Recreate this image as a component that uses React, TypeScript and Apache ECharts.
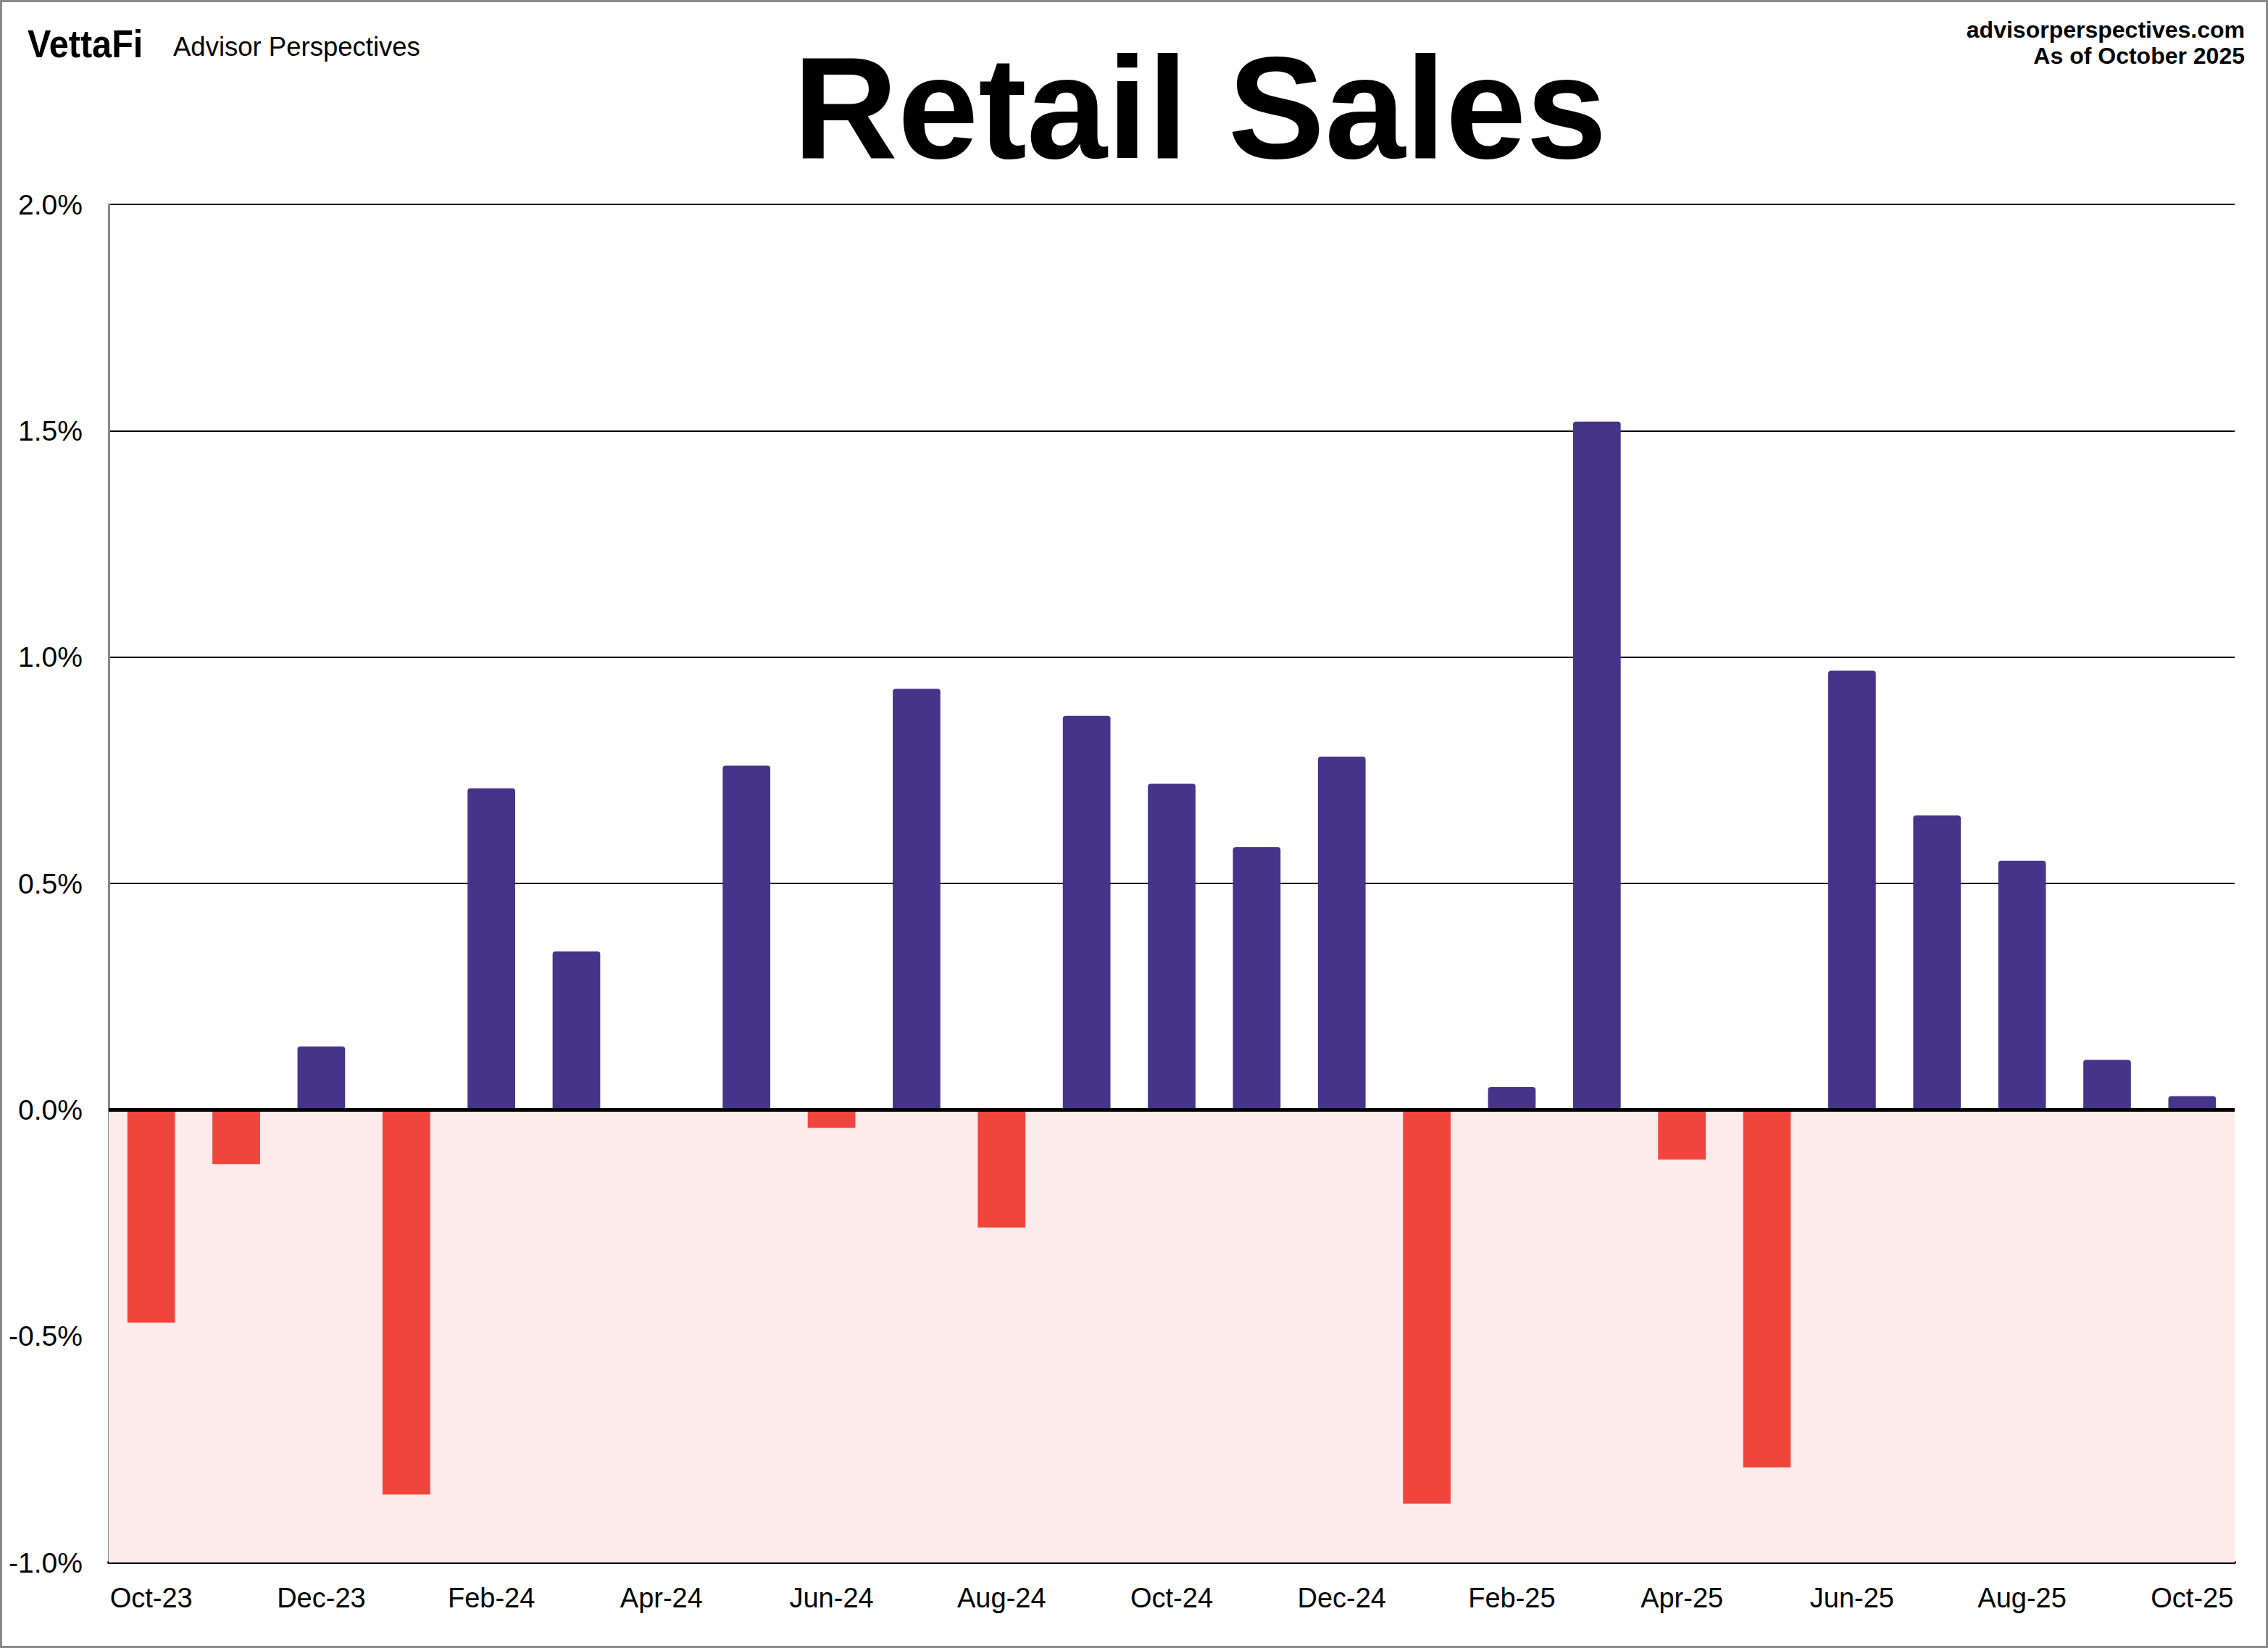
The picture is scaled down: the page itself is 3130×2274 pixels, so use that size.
import React, { useEffect, useRef } from "react";
import * as echarts from "echarts";

const categories = [
  "Oct-23", "Nov-23", "Dec-23", "Jan-24", "Feb-24", "Mar-24", "Apr-24", "May-24", "Jun-24",
  "Jul-24", "Aug-24", "Sep-24", "Oct-24", "Nov-24", "Dec-24", "Jan-25", "Feb-25", "Mar-25",
  "Apr-25", "May-25", "Jun-25", "Jul-25", "Aug-25", "Sep-25", "Oct-25",
];
const values = [
  -0.47, -0.12, 0.14, -0.85, 0.71, 0.35, 0.0, 0.76, -0.04,
  0.93, -0.26, 0.87, 0.72, 0.58, 0.78, -0.87, 0.05, 1.52,
  -0.11, -0.79, 0.97, 0.65, 0.55, 0.11, 0.03,
];
const yTicks = { min: -1, max: 2, interval: 0.5 };

const POS = "#46348b";
const NEG = "#f0453d";
const FONT = "Liberation Sans, Arial, sans-serif";

export default function App() {
  const ref = useRef<HTMLDivElement>(null);
  useEffect(() => {
    document.body.style.margin = "0";
    const chart = echarts.init(ref.current!, null, { renderer: "svg" });
    chart.setOption({
      animation: false,
      backgroundColor: "#ffffff",
      textStyle: { fontFamily: FONT },
      grid: { left: 150, right: 46, top: 282, bottom: 118, containLabel: false },
      graphic: [
        {
          type: "rect",
          shape: { x: 1.5, y: 1.5, width: 3127, height: 2271 },
          style: { fill: "none", stroke: "#888888", lineWidth: 3 },
          z: 100,
        },
        {
          type: "text",
          x: 1656,
          y: 148,
          style: {
            text: "Retail Sales",
            font: `bold 200px ${FONT}`,
            fill: "#000",
            textAlign: "center",
            textVerticalAlign: "middle",
          },
        },
        {
          type: "text",
          x: 38,
          y: 60,
          scaleX: 0.9,
          style: {
            text: "VettaFi",
            font: `bold 54px ${FONT}`,
            fill: "#000",
            textAlign: "left",
            textVerticalAlign: "middle",
          },
        },
        {
          type: "text",
          x: 239,
          y: 64,
          style: {
            text: "Advisor Perspectives",
            font: `36.5px ${FONT}`,
            fill: "#000",
            textAlign: "left",
            textVerticalAlign: "middle",
          },
        },
        {
          type: "text",
          x: 3098,
          y: 41,
          style: {
            text: "advisorperspectives.com",
            font: `bold 32px ${FONT}`,
            fill: "#000",
            textAlign: "right",
            textVerticalAlign: "middle",
          },
        },
        {
          type: "text",
          x: 3098,
          y: 77,
          style: {
            text: "As of October 2025",
            font: `bold 32px ${FONT}`,
            fill: "#000",
            textAlign: "right",
            textVerticalAlign: "middle",
          },
        },
      ],
      xAxis: {
        type: "category",
        data: categories,
        boundaryGap: true,
        axisLine: { onZero: false, lineStyle: { color: "#000", width: 4 } },
        axisTick: { show: false },
        axisLabel: {
          interval: 1,
          fontSize: 38,
          color: "#000",
          margin: 30,
          fontFamily: FONT,
        },
      },
      yAxis: {
        type: "value",
        min: yTicks.min,
        max: yTicks.max,
        interval: yTicks.interval,
        axisLine: { show: true, lineStyle: { color: "#888888", width: 3 } },
        axisTick: { show: false },
        splitLine: { lineStyle: { color: "#000", width: 2 } },
        axisLabel: {
          fontSize: 39,
          color: "#000",
          margin: 36,
          fontFamily: FONT,
          formatter: (v: number) => v.toFixed(1) + "%",
        },
      },
      series: [
        {
          type: "bar",
          barWidth: "56%",
          data: values.map((v) => ({
            value: v,
            itemStyle: {
              color: v >= 0 ? POS : NEG,
              borderRadius: v >= 0 ? [4, 4, 0, 0] : [0, 0, 0, 0],
            },
          })),
          markArea: {
            silent: true,
            itemStyle: { color: "#fdeaea" },
            data: [[{ yAxis: 0 }, { yAxis: -1 }]],
          },
          markLine: {
            silent: true,
            symbol: "none",
            label: { show: false },
            lineStyle: { color: "#000", width: 5, type: "solid" },
            data: [{ yAxis: 0 }],
            z: 10,
          },
        },
      ],
    });
    return () => chart.dispose();
  }, []);
  return <div ref={ref} style={{ width: 3130, height: 2274 }} />;
}
